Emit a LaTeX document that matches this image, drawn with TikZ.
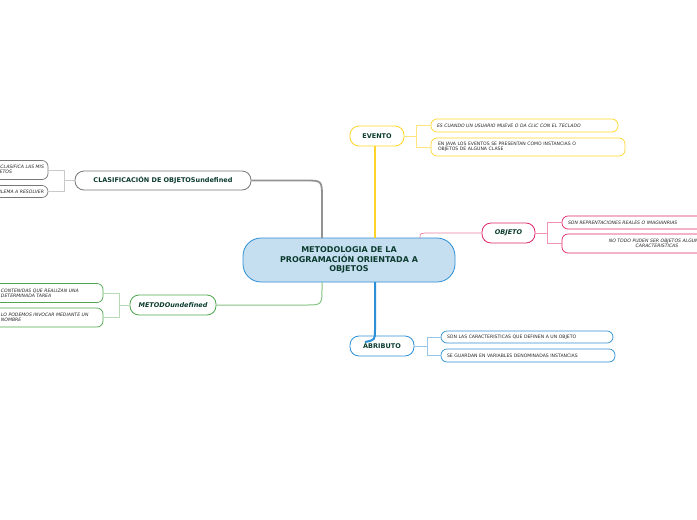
\documentclass[tikz,border=0pt]{standalone}
\usepackage{fontspec}
\setmainfont{DejaVu Sans}
\definecolor{cblue}{HTML}{2D8FD5}
\definecolor{cfill}{HTML}{C5DEF0}
\definecolor{cyel}{HTML}{FFD42A}
\definecolor{cpink}{HTML}{E0246A}
\definecolor{cgray}{HTML}{777777}
\definecolor{cgreen}{HTML}{4CA64C}
\definecolor{ctxt}{HTML}{0B3B2E}
\tikzset{
 box/.style={draw, rounded corners=9pt, line width=0.8pt, inner sep=0pt, text=ctxt, font=\bfseries\fontsize{6.5}{7}\selectfont},
 leaf/.style={draw, rounded corners=6pt, line width=0.7pt, inner sep=0pt, text=black!85, font=\fontsize{4.6}{5.4}\selectfont, align=left},
}
\begin{document}
\begin{tikzpicture}[x=1pt,y=-1pt]
\useasboundingbox (0,0) rectangle (697,520);
\clip (0,0) rectangle (697,520);
% center
\node[box, fill=cfill, draw=cblue, minimum width=212pt, minimum height=44pt, rounded corners=18pt, align=center, font=\bfseries\fontsize{8}{9.5}\selectfont] (c) at (349,260) {METODOLOGIA DE LA\\PROGRAMACIÓN ORIENTADA A\\OBJETOS};
% main topics
\node[box, draw=cyel, minimum width=54pt, minimum height=20pt] (ev) at (377,136) {EVENTO};
\node[box, draw=cpink, minimum width=53pt, minimum height=20pt, font=\bfseries\itshape\fontsize{6.5}{7}\selectfont] (ob) at (508.5,233) {OBJETO};
\node[box, draw=cblue, minimum width=64pt, minimum height=20pt] (ab) at (382,346) {ABRIBUTO};
\node[box, draw=cgray, minimum width=176pt, minimum height=19pt] (cl) at (163,180.5) {CLASIFICACIÓN DE OBJETOSundefined};
\node[box, draw=cgreen, minimum width=86pt, minimum height=20pt, font=\bfseries\itshape\fontsize{6.5}{7}\selectfont] (me) at (173,305) {METODOundefined};
\coordinate (ct) at (375,238);
\coordinate (cb) at (375,282);
\coordinate (ctl) at (322,238);
\coordinate (cbl) at (322,282);
\coordinate (cr) at (420,238);
% connectors to center
\draw[cyel, line width=2pt] (ct) -- (ev.south -| ct);
\draw[cpink!60, line width=0.7pt] (cr) .. controls (420,233) .. (430,233) -- (ob.west);
\draw[cblue, line width=2pt] (cb) -- (375,330) .. controls (375,340) .. (365,342);
\draw[cgray!80, line width=1.8pt] (cl.east) -- (305,180.5) .. controls (322,180.5) .. (322,198) -- (ctl);
\draw[cgreen!70, line width=1pt] (me.east) -- (305,305) .. controls (322,305) .. (322,288) -- (cbl);
% leaves EVENTO
\node[leaf, draw=cyel, minimum width=187pt, minimum height=13pt, text width=175pt, font=\itshape\fontsize{4.6}{5.4}\selectfont] (e1) at (524.5,125.5) {ES CUANDO UN USUARIO MUEVE O DA CLIC CON EL TECLADO};
\node[leaf, draw=cyel, minimum width=194pt, minimum height=18pt, text width=180pt] (e2) at (528,147) {EN JAVA LOS EVENTOS SE PRESENTAN COMO INSTANCIAS O\\OBJETOS DE ALGUNA CLASE};
% leaves OBJETO
\node[leaf, draw=cpink, minimum width=170pt, minimum height=13pt, font=\itshape\fontsize{4.6}{5.4}\selectfont, text width=158pt] (o1) at (647,222.5) {SON REPRENTACIONES REALES O IMAGIANRIAS};
\node[leaf, draw=cpink, minimum width=170pt, minimum height=19pt, font=\itshape\fontsize{4.6}{5.4}\selectfont, text width=162pt, align=center] (o2) at (647,243.5) {\hspace*{20pt}NO TODO PUDEN SER OBJETOS ALGUNOS\\\hspace*{20pt}CARACTERISTICAS};
% leaves ABRIBUTO
\node[leaf, draw=cblue, minimum width=172pt, minimum height=12pt, text width=160pt] (a1) at (527,337) {SON LAS CARACTERISTICAS QUE DEFINEN A UN OBJETO};
\node[leaf, draw=cblue, minimum width=174pt, minimum height=13pt, text width=162pt] (a2) at (528,355.5) {SE GUARDAN EN VARIABLES DENOMINADAS INSTANCIAS};
% leaves CLASIF
\node[leaf, draw=cgray, minimum width=90pt, minimum height=19pt, text width=82pt, align=right, font=\itshape\fontsize{4.6}{5.4}\selectfont] (c1) at (3,170) {CLASIFICA LAS MIS\hspace*{14pt}\\OBJETOS\hspace*{32pt}};
\node[leaf, draw=cgray, minimum width=90pt, minimum height=12pt, text width=82pt, align=right, font=\itshape\fontsize{4.6}{5.4}\selectfont] (c2) at (3,191.5) {PROBLEMA A RESOLVER};
% leaves METODO
\node[leaf, draw=cgreen, minimum width=200pt, minimum height=19pt, text width=192pt, font=\itshape\fontsize{4.6}{5.4}\selectfont] (m1) at (3,293) {\hspace*{94pt}CONTENIDAS QUE REALIZAN UNA\\\hspace*{94pt}DETERMINADA TAREA};
\node[leaf, draw=cgreen, minimum width=200pt, minimum height=19pt, text width=192pt, font=\itshape\fontsize{4.6}{5.4}\selectfont] (m2) at (3,317.5) {\hspace*{94pt}LO PODEMOS INVOCAR MEDIANTE UN\\\hspace*{94pt}NOMBRE};
% leaf connectors
\foreach \n in {e1,e2} \draw[cyel!60, line width=0.6pt] (ev.east) -- (416,136) |- (\n.west);
\foreach \n in {o1,o2} \draw[cpink!50, line width=0.6pt] (ob.east) -- (547,233) |- (\n.west);
\foreach \n in {a1,a2} \draw[cblue!50, line width=0.6pt] (ab.east) -- (427,346) |- (\n.west);
\foreach \n in {c1,c2} \draw[cgray!40, line width=0.6pt] (cl.west) -- (64,180.5) |- (\n.east);
\foreach \n in {m1,m2} \draw[cgreen!40, line width=0.6pt] (me.west) -- (119,305) |- (\n.east);
\end{tikzpicture}
\end{document}
